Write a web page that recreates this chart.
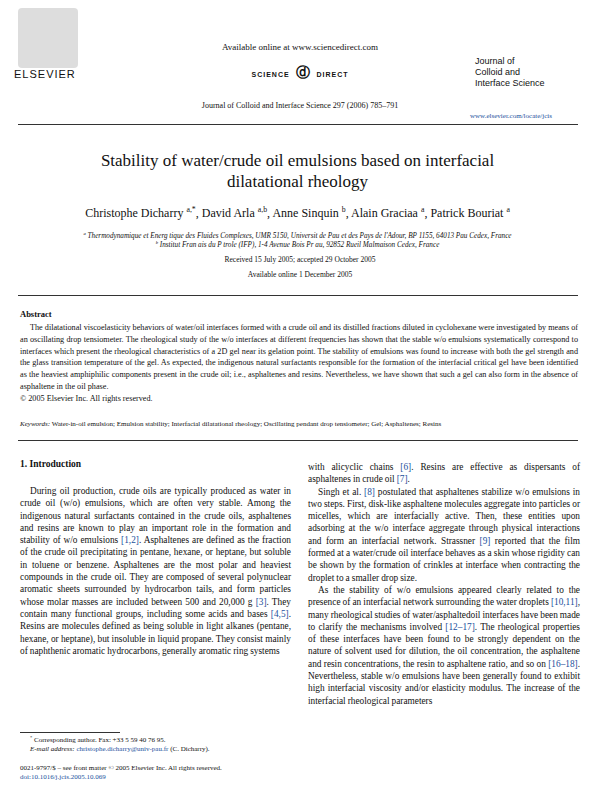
<!DOCTYPE html>
<html><head><meta charset="utf-8">
<script src="https://cdn.jsdelivr.net/npm/chart.js@4"></script>
<style>
body{margin:0;width:595px;height:794px;background:#fff;font-family:"Liberation Serif","Times New Roman",serif;color:#111;position:relative;overflow:hidden}
.a{position:absolute}
.j{text-align:justify}
sup{line-height:0;font-size:65%}
.col{font-size:9.3px;line-height:12.3px;text-align:justify;word-spacing:-0.3px}
.col p{margin:0;text-indent:10px}
.b{color:#1a4f9c}
</style></head><body>
<div class="a" style="left:18px;top:8px;width:60px;height:60px;background:#ddd;border-radius:4px"></div>
<div class="a" style="left:14px;top:68px;font-size:11px;font-family:'Liberation Sans';letter-spacing:1px">ELSEVIER</div>
<div class="a" style="left:180px;top:42px;width:240px;text-align:center;font-size:9px">Available online at www.sciencedirect.com</div>
<div class="a" style="left:200px;top:64px;width:200px;text-align:center;font-size:7px;font-family:'Liberation Sans';font-weight:bold;letter-spacing:1px">SCIENCE &nbsp;<span style="font-size:14px">ⓓ</span>&nbsp; DIRECT</div>
<div class="a" style="left:150px;top:101px;width:300px;text-align:center;font-size:8px">Journal of Colloid and Interface Science 297 (2006) 785–791</div>
<div class="a" style="left:475px;top:56px;font-size:9px;font-family:'Liberation Sans';line-height:11px">Journal of<br>Colloid and<br>Interface Science</div>
<div class="a b" style="left:470px;top:112px;font-size:7px">www.elsevier.com/locate/jcis</div>
<div class="a" style="left:18px;top:124px;width:560px;border-top:1px solid #333"></div>
<div class="a" style="left:90px;top:150px;width:415px;text-align:center;font-size:17px;line-height:21px">Stability of water/crude oil emulsions based on interfacial dilatational rheology</div>
<div class="a" style="left:30px;top:206px;width:535px;text-align:center;font-size:12px">Christophe Dicharry <sup>a,*</sup>, David Arla <sup>a,b</sup>, Anne Sinquin <sup>b</sup>, Alain Graciaa <sup>a</sup>, Patrick Bouriat <sup>a</sup></div>
<div class="a" style="left:10px;top:232px;width:575px;text-align:center;font-size:7.2px;font-style:italic;line-height:8.5px"><sup>a</sup> Thermodynamique et Energ tique des Fluides Complexes, UMR 5150, Universit de Pau et des Pays de l'Adour, BP 1155, 64013 Pau Cedex, France<br><sup>b</sup> Institut Fran ais du P trole (IFP), 1-4 Avenue Bois Pr au, 92852 Rueil Malmaison Cedex, France</div>
<div class="a" style="left:150px;top:255px;width:300px;text-align:center;font-size:7.5px">Received 15 July 2005; accepted 29 October 2005</div>
<div class="a" style="left:150px;top:270px;width:300px;text-align:center;font-size:7.5px">Available online 1 December 2005</div>
<div class="a" style="left:18px;top:295px;width:560px;border-top:1px solid #333"></div>
<div class="a" style="left:20px;top:309px;font-size:8.5px;font-weight:bold">Abstract</div>
<div class="a j" style="left:20px;top:322px;width:558px;font-size:8.2px;line-height:11.8px;text-indent:10px">The dilatational viscoelasticity behaviors of water/oil interfaces formed with a crude oil and its distilled fractions diluted in cyclohexane were investigated by means of an oscillating drop tensiometer. The rheological study of the w/o interfaces at different frequencies has shown that the stable w/o emulsions systematically correspond to interfaces which present the rheological characteristics of a 2D gel near its gelation point. The stability of emulsions was found to increase with both the gel strength and the glass transition temperature of the gel. As expected, the indigenous natural surfactants responsible for the formation of the interfacial critical gel have been identified as the heaviest amphiphilic components present in the crude oil; i.e., asphaltenes and resins. Nevertheless, we have shown that such a gel can also form in the absence of asphaltene in the oil phase.<br>© 2005 Elsevier Inc. All rights reserved.</div>
<div class="a" style="left:20px;top:420px;width:558px;font-size:7px"><i>Keywords:</i> Water-in-oil emulsion; Emulsion stability; Interfacial dilatational rheology; Oscillating pendant drop tensiometer; Gel; Asphaltenes; Resins</div>
<div class="a" style="left:18px;top:440px;width:560px;border-top:1px solid #333"></div>
<div class="a" style="left:20px;top:459px;font-size:9.5px;font-weight:bold">1. Introduction</div>
<div class="a col" style="left:20px;top:485px;width:271px">
<p>During oil production, crude oils are typically produced as water in crude oil (w/o) emulsions, which are often very stable. Among the indigenous natural surfactants contained in the crude oils, asphaltenes and resins are known to play an important role in the formation and stability of w/o emulsions <span class="b">[1,2]</span>. Asphaltenes are defined as the fraction of the crude oil precipitating in pentane, hexane, or heptane, but soluble in toluene or benzene. Asphaltenes are the most polar and heaviest compounds in the crude oil. They are composed of several polynuclear aromatic sheets surrounded by hydrocarbon tails, and form particles whose molar masses are included between 500 and 20,000 g <span class="b">[3]</span>. They contain many functional groups, including some acids and bases <span class="b">[4,5]</span>. Resins are molecules defined as being soluble in light alkanes (pentane, hexane, or heptane), but insoluble in liquid propane. They consist mainly of naphthenic aromatic hydrocarbons, generally aromatic ring systems</p></div>
<div class="a col" style="left:308px;top:461px;width:272px">
<div style="text-align:justify">with alicyclic chains <span class="b">[6]</span>. Resins are effective as dispersants of asphaltenes in crude oil <span class="b">[7]</span>.</div>
<p>Singh et al. <span class="b">[8]</span> postulated that asphaltenes stabilize w/o emulsions in two steps. First, disk-like asphaltene molecules aggregate into particles or micelles, which are interfacially active. Then, these entities upon adsorbing at the w/o interface aggregate through physical interactions and form an interfacial network. Strassner <span class="b">[9]</span> reported that the film formed at a water/crude oil interface behaves as a skin whose rigidity can be shown by the formation of crinkles at interface when contracting the droplet to a smaller drop size.</p>
<p>As the stability of w/o emulsions appeared clearly related to the presence of an interfacial network surrounding the water droplets <span class="b">[10,11]</span>, many rheological studies of water/asphaltedoil interfaces have been made to clarify the mechanisms involved <span class="b">[12–17]</span>. The rheological properties of these interfaces have been found to be strongly dependent on the nature of solvent used for dilution, the oil concentration, the asphaltene and resin concentrations, the resin to asphaltene ratio, and so on <span class="b">[16–18]</span>. Nevertheless, stable w/o emulsions have been generally found to exhibit high interfacial viscosity and/or elasticity modulus. The increase of the interfacial rheological parameters</p></div>
<div class="a" style="left:20px;top:732px;width:100px;border-top:1px solid #333"></div>
<div class="a" style="left:30px;top:736px;font-size:7px;line-height:9px"><sup>*</sup> Corresponding author. Fax: +33 5 59 40 76 95.<br><i>E-mail address:</i> <span class="b">christophe.dicharry@univ-pau.fr</span> (C. Dicharry).</div>
<div class="a" style="left:20px;top:764px;font-size:7px;line-height:9px">0021-9797/$ – see front matter © 2005 Elsevier Inc. All rights reserved.<br><span class="b">doi:10.1016/j.jcis.2005.10.069</span></div>
</body></html>
